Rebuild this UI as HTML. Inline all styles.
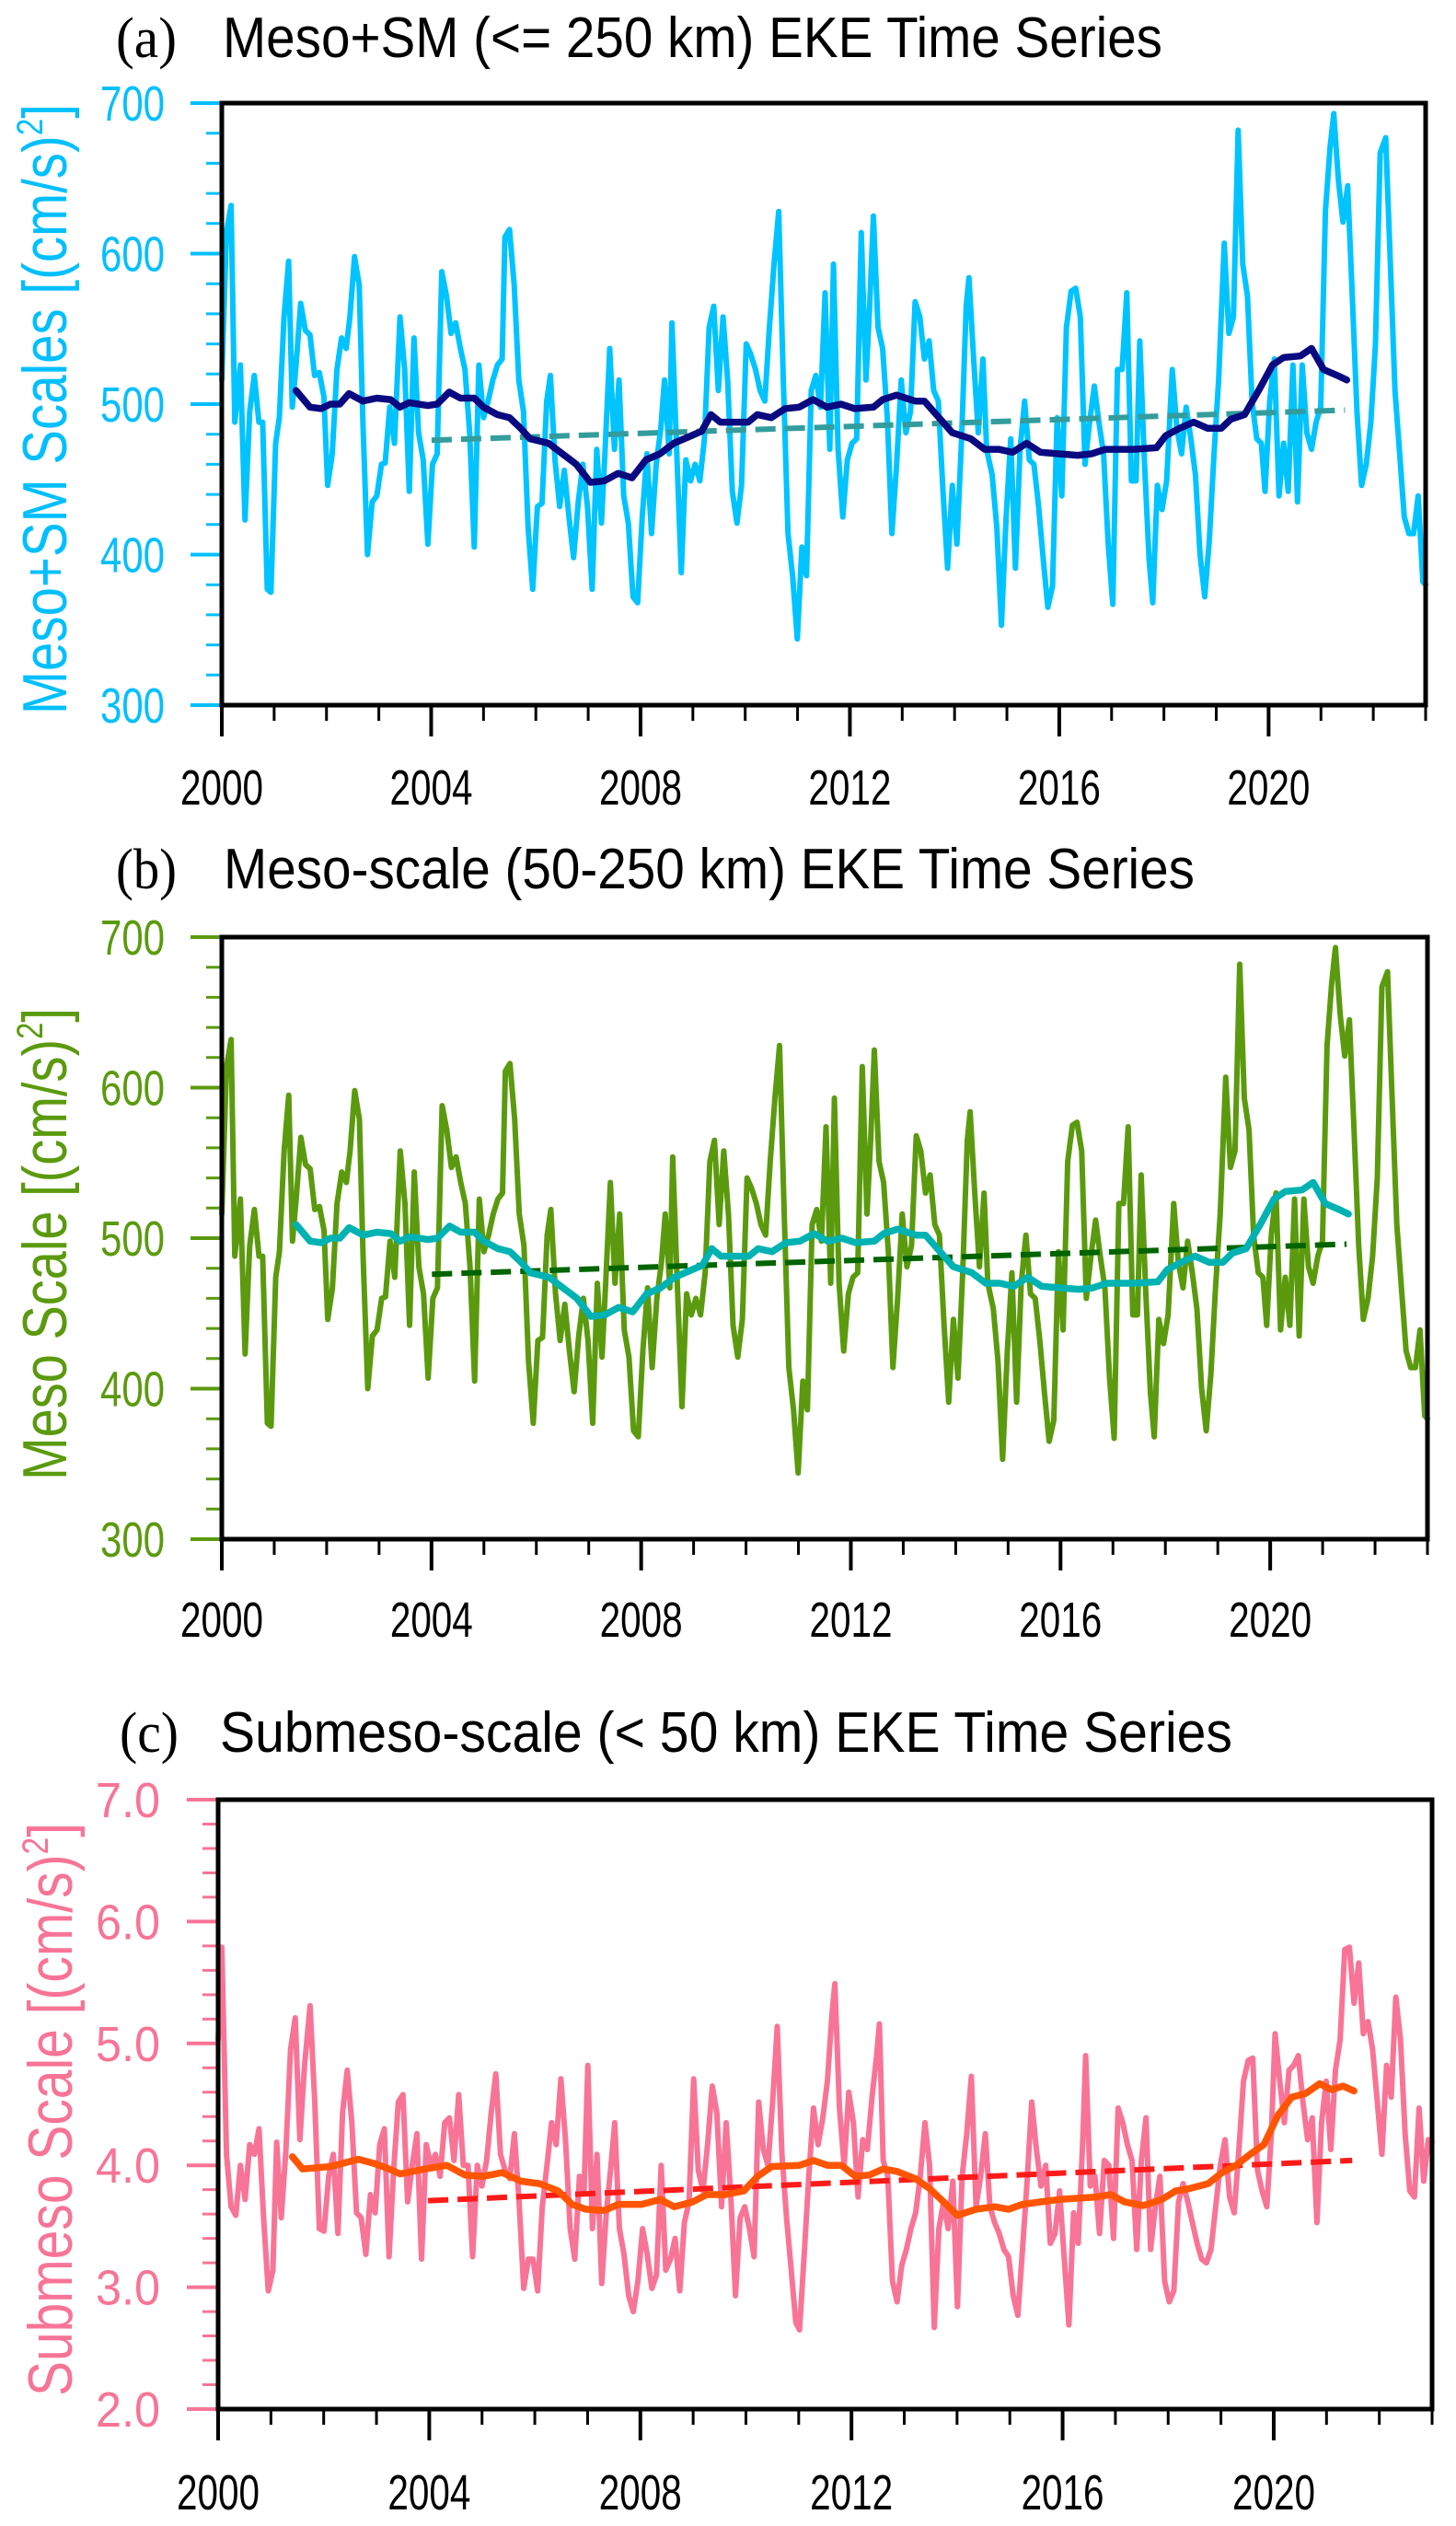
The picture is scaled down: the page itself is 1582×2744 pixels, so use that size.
<!DOCTYPE html>
<html><head><meta charset="utf-8"><style>
html,body{margin:0;padding:0;background:#fff;}
svg{display:block;}
</style></head><body>
<svg id="s" width="1582" height="2744" viewBox="0 0 1582 2744" xmlns="http://www.w3.org/2000/svg" font-family="Liberation Sans, sans-serif">
<rect width="1582" height="2744" fill="#fff"/>
<text x="126" y="62" font-family="Liberation Serif, serif" font-size="62" textLength="66" lengthAdjust="spacingAndGlyphs">(a)</text>
<text x="242" y="62" font-size="62" textLength="1021" lengthAdjust="spacingAndGlyphs">Meso+SM (&lt;= 250 km) EKE Time Series</text>
<text x="126" y="965" font-family="Liberation Serif, serif" font-size="62" textLength="66" lengthAdjust="spacingAndGlyphs">(b)</text>
<text x="243" y="965" font-size="62" textLength="1055" lengthAdjust="spacingAndGlyphs">Meso-scale (50-250 km) EKE Time Series</text>
<text x="130" y="1903" font-family="Liberation Serif, serif" font-size="62" textLength="64" lengthAdjust="spacingAndGlyphs">(c)</text>
<text x="239" y="1903" font-size="62" textLength="1100" lengthAdjust="spacingAndGlyphs">Submeso-scale (&lt; 50 km) EKE Time Series</text>
<g id="g"></g>
</svg>
<script>
var NS="http://www.w3.org/2000/svg",G=document.getElementById('g');
function el(t,a,txt){var e=document.createElementNS(NS,t);for(var k in a)e.setAttribute(k,a[k]);if(txt!==undefined)e.textContent=txt;G.appendChild(e);return e;}
var A=[238,516,243,614,248,632,252,488,258,526,263,423,268,495,273,519,278,488,282,488,287,377,291,375,296,474,300,491,305,558,310,595,314,498,318,526,323,567,328,549,333,546,338,519,343,521,348,505,352,446,357,467,362,523,367,544,372,537,376,558,381,598,386,579,390,488,395,400,400,435,405,439,410,460,414,461,419,498,424,474,430,558,435,523,440,442,445,544,450,481,455,463,460,407,465,460,470,467,475,588,480,572,485,547,490,554,495,537,500,523,505,481,510,405,515,526,520,491,525,502,530,516,535,526,540,530,543,611,548,616,553,579,558,516,563,495,568,418,573,377,578,432,583,434,588,502,592,519,597,463,602,432,607,456,612,425,617,398,622,435,627,460,632,432,637,377,642,470,647,421,651,470,656,537,661,470,666,516,671,439,676,421,681,372,686,368,691,425,696,467,701,414,706,460,711,484,715,516,720,467,723,554,728,470,733,388,738,463,743,449,748,460,753,449,758,477,763,551,768,565,773,509,778,558,783,516,788,442,793,421,798,446,803,540,808,533,813,523,818,509,823,502,828,551,833,593,838,628,843,516,848,414,853,386,858,344,863,405,868,386,873,509,878,519,883,498,888,574,893,470,897,593,902,470,907,425,912,463,917,474,922,477,927,614,932,516,936,565,940,625,945,551,950,537,955,491,960,414,965,460,970,516,975,481,980,495,985,568,990,558,995,530,1000,542,1005,509,1010,502,1015,442,1020,391,1025,446,1030,407,1035,477,1040,565,1043,584,1048,530,1053,481,1058,530,1062,470,1068,453,1073,418,1078,353,1083,425,1088,477,1093,391,1098,470,1103,502,1108,463,1113,460,1118,432,1123,397,1128,365,1133,379,1138,491,1143,439,1148,551,1153,575,1158,577,1163,558,1168,460,1173,488,1178,512,1183,488,1188,467,1193,407,1198,367,1203,523,1208,523,1213,574,1218,449,1223,449,1227,542,1232,463,1237,397,1241,368,1246,446,1251,430,1256,449,1262,523,1267,484,1272,467,1277,498,1282,477,1287,453,1292,400,1297,372,1302,410,1307,467,1312,516,1318,607,1323,547,1328,558,1333,682,1338,593,1343,572,1348,502,1353,477,1358,474,1362,442,1367,502,1372,530,1377,439,1382,474,1387,442,1392,526,1397,435,1402,526,1407,481,1412,470,1417,488,1422,498,1427,628,1432,670,1436,693,1441,649,1446,621,1451,645,1456,572,1461,495,1466,446,1471,460,1476,488,1481,540,1486,667,1492,677,1497,593,1502,509,1507,467,1512,425,1517,414,1522,414,1527,439,1532,382,1535,380];
var AM=[318,509,333,498,345,497,355,500,365,500,375,507,390,502,405,504,420,503,430,498,440,501,460,499,470,500,483,508,495,504,510,504,520,498,535,493,548,491,560,484,570,477,590,474,605,467,620,460,635,448,650,449,665,454,680,451,695,463,710,467,725,474,740,478,755,482,765,493,775,488,790,488,805,488,815,493,830,491,845,497,860,498,875,503,890,498,905,500,920,497,940,498,950,503,965,506,975,504,985,502,995,502,1005,495,1015,488,1025,481,1045,477,1060,470,1075,470,1090,468,1105,474,1120,468,1140,467,1160,466,1175,467,1190,470,1220,470,1245,471,1255,479,1270,484,1285,488,1300,484,1315,484,1325,490,1340,493,1355,509,1370,526,1382,531,1400,532,1412,537,1425,523,1440,519,1450,516];
var C=[234,5.03,238,5.79,243,4.09,248,3.66,253,3.59,258,4.0,263,3.72,268,4.17,273,4.09,278,4.30,283,3.57,288,2.97,293,3.14,297,4.19,302,3.57,307,4.13,312,4.95,317,5.21,322,4.21,327,4.82,333,5.31,338,4.52,343,3.48,348,3.46,353,3.91,358,4.09,363,3.44,368,4.43,373,4.78,378,4.35,383,3.61,388,3.57,393,3.27,398,3.76,403,3.61,408,4.17,413,4.30,418,3.25,423,3.96,428,4.52,433,4.58,438,3.70,443,4.0,448,4.26,453,3.23,458,4.17,463,4.0,468,4.09,473,3.91,478,4.35,483,4.39,488,4.04,493,4.58,498,4.0,503,4.0,508,3.25,513,4.0,518,3.83,523,4.04,528,4.43,533,4.75,538,4.09,543,3.96,548,3.89,553,4.26,558,3.70,563,2.99,568,3.23,573,3.23,578,2.97,583,3.66,588,4.0,593,4.35,598,4.17,603,4.71,608,4.21,613,3.48,618,3.23,623,3.91,628,3.79,632,4.82,637,3.48,642,4.09,647,3.03,652,3.61,657,4.0,661,4.35,666,3.48,671,3.27,676,2.93,681,2.80,686,3.05,691,3.48,696,3.27,701,2.99,706,3.10,711,4.0,716,3.14,721,3.23,726,3.40,731,2.97,736,3.53,741,3.70,746,4.71,751,3.96,756,3.79,761,4.17,766,4.65,771,4.43,776,3.66,781,4.35,786,3.74,791,2.93,796,3.57,801,3.66,806,3.48,811,3.25,816,4.52,821,4.13,826,4.0,831,4.52,836,5.14,841,4.09,846,3.57,851,3.14,856,2.71,860,2.65,865,3.27,870,3.91,875,4.47,880,4.17,885,4.39,890,4.69,895,5.25,898,5.49,903,4.47,908,4.0,913,4.60,918,4.35,923,3.74,928,4.21,933,4.13,938,4.56,943,4.90,946,5.16,950,4.04,955,3.91,960,3.05,965,2.88,970,3.18,975,3.31,980,3.48,985,3.61,990,3.91,995,4.35,1000,4.0,1005,2.67,1010,3.48,1015,3.70,1020,3.48,1025,3.87,1030,2.84,1035,3.91,1040,4.26,1045,4.73,1050,3.66,1055,3.91,1060,4.26,1065,3.66,1070,3.53,1075,3.44,1080,3.31,1085,3.25,1090,2.93,1095,2.77,1100,3.31,1105,3.87,1110,4.52,1115,4.13,1120,3.83,1125,4.0,1130,3.36,1135,3.44,1140,3.79,1145,3.23,1150,2.69,1155,3.61,1160,3.36,1165,4.21,1168,4.90,1173,3.83,1178,3.91,1183,3.44,1188,4.04,1193,4.0,1198,3.40,1203,4.47,1208,4.35,1213,4.17,1218,4.04,1223,3.31,1228,4.04,1233,4.39,1238,3.31,1243,3.66,1248,3.91,1253,3.05,1258,2.88,1263,2.97,1268,3.70,1273,3.85,1278,3.70,1283,3.53,1288,3.36,1293,3.23,1298,3.20,1303,3.31,1308,3.66,1313,4.0,1318,4.21,1323,3.74,1328,3.61,1333,4.13,1338,4.69,1343,4.86,1348,4.88,1353,3.96,1358,3.79,1363,3.66,1368,4.26,1372,5.08,1377,4.69,1382,4.35,1387,4.78,1392,4.82,1397,4.90,1402,4.52,1407,4.21,1412,4.39,1417,3.53,1422,4.35,1427,4.69,1432,4.13,1437,4.78,1442,5.03,1447,5.77,1452,5.79,1457,5.33,1462,5.66,1467,5.08,1472,5.18,1477,4.95,1482,4.52,1487,4.09,1492,4.82,1497,4.56,1502,5.38,1507,5.03,1512,4.26,1517,3.79,1522,3.74,1527,4.47,1532,3.87,1537,4.21,1541,4.19];
var CM=[314,4.07,325,3.97,340,3.98,355,3.99,370,4.02,385,4.05,400,4.02,415,3.98,430,3.93,450,3.96,465,3.98,480,4.0,500,3.92,520,3.91,540,3.94,560,3.87,580,3.85,600,3.79,615,3.68,630,3.64,650,3.63,665,3.68,690,3.68,710,3.72,725,3.66,745,3.70,760,3.76,780,3.76,800,3.79,815,3.91,830,3.99,860,4.0,875,4.04,890,4.0,905,4.0,920,3.91,935,3.92,950,3.97,965,3.95,985,3.89,1000,3.81,1015,3.70,1030,3.59,1050,3.64,1070,3.66,1085,3.64,1100,3.68,1120,3.70,1140,3.72,1160,3.73,1180,3.74,1195,3.76,1210,3.70,1230,3.67,1250,3.72,1265,3.79,1280,3.81,1300,3.85,1315,3.94,1330,4.0,1345,4.09,1360,4.17,1375,4.41,1390,4.56,1405,4.59,1420,4.67,1433,4.62,1445,4.65,1457,4.61];
function panel(o){
 var L=o.L,T=o.T,R=o.R,B=o.B,W=R-L,H=B-T;
 function X(f){return L+f*W;} function Y(v){return B-(v-o.y0)/(o.y1-o.y0)*H;}
 function path(d,x0,xw,col,w,dash){var s='';for(var i=0;i<d.length;i+=2){var x=X(Math.min(1,Math.max(0,(d[i]-x0)/xw))),y=Y(d[i+1]);s+=(i?'L':'M')+x.toFixed(1)+' '+y.toFixed(1);}
  var a={d:s,fill:'none',stroke:col,'stroke-width':w,'stroke-linejoin':'round','stroke-linecap':dash?'butt':'round'};if(dash)a['stroke-dasharray']=dash;el('path',a);}
 var n=(o.y1-o.y0)/o.minor;
 for(var i=0;i<=Math.round(n);i++){var v=o.y0+i*o.minor,y=Y(v),maj=(i%5==0);
  el('line',{x1:maj?L-34:L-17,x2:L,y1:y,y2:y,stroke:o.lc,'stroke-width':maj?4:3});
  if(maj)el('text',{x:o.lx,y:y+19,'text-anchor':'end','font-size':54,fill:o.lc,textLength:70,lengthAdjust:'spacingAndGlyphs'},o.fmt(v));}
 for(var yr=0;yr<=23;yr++){var x=X(yr/23),maj=(yr%4==0);
  el('line',{x1:x,x2:x,y1:B,y2:B+(maj?34:17),stroke:'#000','stroke-width':maj?4:3});
  if(maj)el('text',{x:x,y:o.xb,'text-anchor':'middle','font-size':54,textLength:90,lengthAdjust:'spacingAndGlyphs'},String(2000+yr));}
 path(o.raw,o.x0,o.xw,o.rc,6);
 path(o.tr,o.x0,o.xw,o.tc,6,'22 10');
 path(o.mean,o.x0,o.xw,o.mc,7.5);
 el('rect',{x:L,y:T,width:W,height:H,fill:'none',stroke:'#000','stroke-width':5});
 var t=el('text',{transform:'translate('+o.tx+','+((o.ts+o.te)/2)+') rotate(-90)','text-anchor':'middle','font-size':68,fill:o.lc,textLength:(o.te-o.ts),lengthAdjust:'spacingAndGlyphs'});
 t.innerHTML=o.title+'<tspan dy="-26" font-size="40">2</tspan><tspan dy="26">]</tspan>';
}
var f0=function(v){return String(Math.round(v));},f1=function(v){return v.toFixed(1);};
panel({L:241,T:112,R:1549,B:766,y0:300,y1:700,minor:20,lc:'#00bfff',lx:179,xb:874,fmt:f0,raw:A,mean:AM,tr:[464,476,1448,496],x0:238,xw:1297,rc:'#00c3ff',mc:'#0a0a80',tc:'#339c9c',tx:72,ts:113,te:776,title:'Meso+SM Scales [(cm/s)'});
panel({L:241,T:1018,R:1551,B:1672,y0:300,y1:700,minor:20,lc:'#5b9a0e',lx:179,xb:1778,fmt:f0,raw:A,mean:AM,tr:[464,476,1448,496],x0:238,xw:1297,rc:'#5b9a0e',mc:'#00b2b2',tc:'#006400',tx:72,ts:1095,te:1608,title:'Meso Scale [(cm/s)'});
panel({L:237,T:1955,R:1556,B:2617,y0:2,y1:7,minor:0.2,lc:'#f87496',lx:174,xb:2726,fmt:f1,raw:C,mean:CM,tr:[460,3.71,1455,4.04],x0:234,xw:1307,rc:'#f87496',mc:'#ff5500',tc:'#ff1a1a',tx:78,ts:1980,te:2603,title:'Submeso Scale [(cm/s)'});
</script>
</body></html>
